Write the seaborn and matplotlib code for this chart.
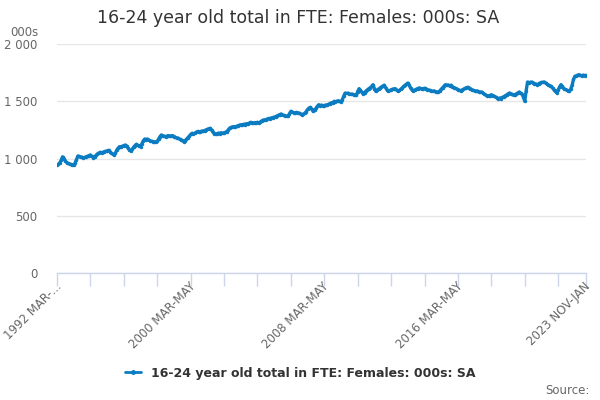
import pandas as pd
import matplotlib
matplotlib.use("Agg")
import matplotlib.pyplot as plt
import matplotlib.transforms as mtransforms
import seaborn as sns

TITLE = "16-24 year old total in FTE: Females: 000s: SA"

# values per rolling quarter, starting 1992 MAR-MAY, one row per 12 months
values = [
    943, 950, 962, 985, 1015, 1000, 978, 965, 958, 952, 948, 940,
    943, 960, 990, 1022, 1018, 1010, 1012, 1006, 1010, 1015, 1020, 1026,
    1031, 1020, 1008, 1015, 1028, 1040, 1047, 1054, 1050, 1055, 1060, 1064,
    1066, 1072, 1060, 1048, 1040, 1031, 1050, 1075, 1092, 1104, 1100, 1108,
    1112, 1118, 1110, 1090, 1075, 1066, 1080, 1098, 1112, 1124, 1115, 1108,
    1104, 1130, 1155, 1170, 1165, 1170, 1160, 1155, 1150, 1148, 1145, 1142,
    1150, 1170, 1192, 1206, 1198, 1195, 1190, 1196, 1200, 1194, 1198, 1200,
    1192, 1185, 1180, 1178, 1170, 1165, 1158, 1148, 1155, 1168, 1180, 1195,
    1210, 1220, 1215, 1222, 1230, 1236, 1228, 1234, 1240, 1236, 1244, 1250,
    1255, 1260, 1264, 1250, 1230, 1218, 1212, 1216, 1222, 1218, 1225, 1220,
    1224, 1229, 1235, 1250, 1265, 1272, 1276, 1279, 1275, 1282, 1286, 1290,
    1295, 1290, 1299, 1296, 1304, 1300, 1308, 1316, 1310, 1306, 1314, 1312,
    1316, 1310, 1319, 1328, 1336, 1332, 1340, 1344, 1350, 1348, 1354, 1358,
    1360, 1366, 1372, 1378, 1384, 1389, 1380, 1376, 1372, 1370, 1369, 1392,
    1412, 1405, 1400, 1396, 1402, 1398, 1397, 1390, 1382, 1388, 1395, 1410,
    1428, 1440, 1447, 1430, 1412, 1420, 1438, 1455, 1470, 1462, 1466, 1460,
    1462, 1468, 1464, 1472, 1480, 1486, 1482, 1499, 1495, 1500, 1505, 1498,
    1493, 1515, 1545, 1572, 1568, 1570, 1565, 1560, 1563, 1558, 1555, 1552,
    1585, 1610, 1595, 1578, 1563, 1575, 1590, 1600, 1610, 1618, 1630, 1645,
    1610, 1587, 1598, 1606, 1615, 1625, 1632, 1640, 1620, 1600, 1587, 1594,
    1600, 1605, 1608, 1610, 1598, 1587, 1595, 1605, 1618, 1630, 1640, 1650,
    1659, 1640, 1615, 1600, 1592, 1598, 1605, 1610, 1616, 1612, 1606, 1610,
    1614, 1610, 1602, 1598, 1594, 1590, 1587, 1590, 1584, 1580, 1581, 1590,
    1605, 1618, 1632, 1645, 1638, 1642, 1636, 1640, 1628, 1620, 1615, 1610,
    1602, 1596, 1592, 1598, 1605, 1612, 1618, 1622, 1615, 1610, 1600, 1596,
    1592, 1588, 1590, 1584, 1578, 1581, 1570, 1562, 1555, 1548, 1543, 1550,
    1557, 1550, 1545, 1538, 1530, 1522, 1528, 1524, 1534, 1540, 1548, 1556,
    1565, 1572, 1566, 1560, 1552, 1558, 1565, 1572, 1581, 1570, 1560, 1540,
    1500, 1590, 1668, 1662, 1665, 1668, 1660, 1655, 1650, 1645, 1652, 1660,
    1664, 1666, 1668, 1660, 1650, 1642, 1636, 1630, 1615, 1601, 1590, 1572,
    1600, 1625, 1645, 1630, 1610, 1604, 1598, 1592, 1587, 1605, 1640, 1690,
    1718, 1722, 1728, 1732, 1726, 1722, 1728, 1724, 1727,
]

label_pos = [0, 96, 192, 288, 380]
label_text = ["1992 MAR-...", "2000 MAR-MAY", "2008 MAR-MAY", "2016 MAR-MAY", "2023 NOV-JAN"]
y_ticks = [0, 500, 1000, 1500, 2000]
y_labels = ["0", "500", "1 000", "1 500", "2 000"]

df = pd.DataFrame({"idx": range(len(values)), "value": values})

sns.set_style("white")
plt.rcParams["font.family"] = ["DejaVu Sans"]

fig = plt.figure(figsize=(6, 4), dpi=100)
ax = fig.add_axes([57 / 600, 1 - 273 / 400, 529 / 600, 229 / 400])

blue = "#0b7cc1"
sns.lineplot(data=df, x="idx", y="value", ax=ax, color=blue, linewidth=2.4,
             marker="o", markersize=2.5, markeredgewidth=0)

ax.set_xlim(0, len(values) - 1)
ax.set_ylim(0, 2000)
ax.set_xlabel("")
ax.set_ylabel("")

ax.set_yticks(y_ticks)
ax.set_yticklabels(y_labels, fontsize=8.5, color="#666666")
ax.yaxis.grid(True, color="#e6e6e6", linewidth=1)
ax.tick_params(axis="y", length=0, pad=14)

minor = list(range(0, 361, 24)) + [380]
ax.set_xticks(minor, minor=True)
ax.set_xticks(label_pos)
ax.set_xticklabels(label_text, rotation=45, ha="right", rotation_mode="anchor",
                   fontsize=8.5, color="#666666")
ax.tick_params(axis="x", which="both", bottom=True, length=9, width=1,
               color="#ccd6eb", direction="out", pad=0)
# nudge rotated labels so they end just at the tick, as in the original
shift = mtransforms.ScaledTranslation(-2 / 100, 6 / 100, fig.dpi_scale_trans)
for lab in ax.get_xticklabels():
    lab.set_transform(lab.get_transform() + shift)

for s in ["top", "right", "left"]:
    ax.spines[s].set_visible(False)
ax.spines["bottom"].set_color("#ccd6eb")
ax.spines["bottom"].set_linewidth(1)

fig.text(0.497, 0.955, TITLE, ha="center", va="center", fontsize=12.5, color="#333333")
fig.text(10 / 600, 1 - 32 / 400, "000s", ha="left", va="center", fontsize=8.5, color="#666666")

# legend at the bottom
leg = ax.legend([plt.Line2D([], [], color=blue, linewidth=2, marker="o", markersize=2.5)],
                [TITLE], loc="center", bbox_to_anchor=(0.5, 1 - 373 / 400),
                bbox_transform=fig.transFigure, frameon=False, handlelength=1.3,
                prop={"size": 9, "weight": "bold"})
for t in leg.get_texts():
    t.set_color("#333333")

fig.text(590 / 600, 1 - 390 / 400, "Source:", ha="right", va="center", fontsize=8.5, color="#666666")

fig.savefig("out.png", dpi=100)
